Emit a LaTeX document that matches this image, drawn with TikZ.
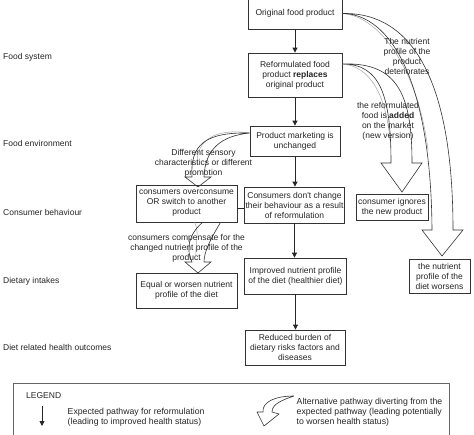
\documentclass[tikz,border=0pt]{standalone}
\usepackage{fontspec}
\setmainfont{Liberation Sans}
\usetikzlibrary{arrows.meta}
\begin{document}
\tikzset{
  txt/.style={font=\fontsize{8.5}{10}\selectfont, text=black!85},
  box/.style={txt, draw=black!80, line width=0.8pt, fill=white, align=center, inner sep=1pt},
  lbl/.style={txt, align=center, inner sep=0pt},
  arr/.style={draw=black!85, line width=0.8pt, -{Triangle[length=5pt,width=5pt]}},
  flex/.style={draw=black!80, line width=0.6pt, line join=miter},
  faint/.style={draw=black!35, line width=0.5pt},
}
\begin{tikzpicture}[x=1pt,y=-1pt]
\clip (0,0) rectangle (474,434);
\fill[white] (0,0) rectangle (474,434);

% boxes
\node[box, minimum width=94pt, minimum height=31pt] (b1) at (295,13.5) {Original food product};
\node[box, minimum width=94pt, minimum height=44pt] (b2) at (295,75) {Reformulated food\\product \textbf{replaces}\\original product};
\node[box, minimum width=90pt, minimum height=30pt] (b3) at (295,141) {Product marketing is\\unchanged};
\node[box, minimum width=101pt, minimum height=37pt] (b4) at (186.5,203.5) {consumers overconsume\\OR switch to another\\product};
\node[box, minimum width=99pt, minimum height=36pt] (b5) at (294.5,205) {Consumers don\textquotesingle t change\\their behaviour as a result\\of reformulation};
\node[box, minimum width=72pt, minimum height=26pt] (b6) at (392,207) {consumer ignores\\the new product};
\node[box, minimum width=101pt, minimum height=35pt] (b7) at (186.5,290.5) {Equal or worsen nutrient\\profile of the diet};
\node[box, minimum width=102pt, minimum height=36pt] (b8) at (295.5,276) {Improved nutrient profile\\of the diet (healthier diet)};
\node[box, minimum width=61pt, minimum height=34pt] (b9) at (439.5,276) {the nutrient\\profile of the\\diet worsens};
\node[box, minimum width=100pt, minimum height=35pt] (b10) at (295,347.5) {Reduced burden of\\dietary risks factors and\\diseases};

% expected pathway arrows
\draw[arr] (b1) -- (b2);
\draw[arr] (b2) -- (b3);
\draw[arr] (b3.south) -- (b3.south |- b5.north);
\draw[arr] (b5.south) -- (b5.south |- b8.north);
\draw[arr] (b8.south) -- (b8.south |- b10.north);
\draw[black!85, line width=0.9pt] ([yshift=-5pt]b4.east) -- ([yshift=-5pt]b4.east -| b5.west);

% alternative pathway (hollow curved arrows)
\draw[faint] (b1.east) .. controls (380,16) and (418,70) .. (428,150);
\draw[flex] (b1.east) .. controls (390,14) and (431,80) .. (432,230) -- (422,230) -- (442,256)
  -- (463,230) -- (453,230) .. controls (453,80) and (412,12) .. (b1.east);
\draw[faint] ([yshift=11pt]b2.east) .. controls (370,66) and (386,95) .. (390,140);
\draw[flex] ([yshift=11pt]b2.east) .. controls (380,64) and (391,95) .. (391,163) -- (381,163) -- (402,192)
  -- (422,163) -- (412,163) .. controls (412,95) and (398,62) .. ([yshift=11pt]b2.east);
\draw[faint] ([yshift=8pt]b3.west) .. controls (215,128) and (196,140) .. (197,165);
\draw[flex] ([yshift=8pt]b3.west) .. controls (205,132) and (190,145) .. (192,177) -- (185,177) -- (198,187)
  -- (211,177) -- (204,177) .. controls (205,150) and (220,136) .. ([yshift=8pt]b3.west);
\draw[faint] ([xshift=8pt]b4.south) .. controls (200,232) and (195,245) .. (196,255);
\draw[flex] ([xshift=16pt]b4.south) .. controls (188,235) and (186,250) .. (192,262) -- (185,262) -- (198,273)
  -- (211,262) -- (204,262) .. controls (204,252) and (210,240) .. ([xshift=34pt]b4.south);

% floating labels
\node[lbl] (t1) at (407,56) {The nutrient\\profile of the\\product\\deteriorates};
\node[lbl] (t2) at (388,121) {the reformulated\\food is \textbf{added}\\on the market\\(new version)};
\node[lbl] (t3) at (203.5,163) {Different sensory\\characteristics or different\\promotion};
\node[lbl] (t4) at (186.5,248) {consumers compensate for the\\changed nutrient profile of the\\product};

% level labels
\node[lbl, anchor=west] (s1) at (3,57) {Food system};
\node[lbl, anchor=west] (s2) at (3,143) {Food environment};
\node[lbl, anchor=west] (s3) at (3,212) {Consumer behaviour};
\node[lbl, anchor=west] (s4) at (3,281) {Dietary intakes};
\node[lbl, anchor=west] (s5) at (3,347.5) {Diet related health outcomes};

% legend
\draw[black!60, line width=0.8pt] (13,383) rectangle (449,450);
\node[lbl, anchor=west] (lg) at (26,396) {LEGEND};
\coordinate (la1) at (42,406);
\coordinate (la2) at (42,426);
\draw[arr] (la1) -- (la2);
\node[lbl, anchor=west, align=left, font=\fontsize{8.7}{10}\selectfont] (lt1) at (67.5,417) {Expected pathway for reformulation\\(leading to improved health status)};
\coordinate (lf) at (294,396);
\draw[flex] (lf) .. controls (275,396) and (262,402) .. (263,412) -- (257,412) -- (264,426)
  -- (279,414) -- (272,412) .. controls (272,404) and (282,400) .. (lf);
\node[lbl, anchor=west, align=left, font=\fontsize{8.7}{10}\selectfont] (lt2) at (296.5,412) {Alternative pathway diverting from the\\expected pathway (leading potentially\\to worsen health status)};
\end{tikzpicture}
\end{document}
